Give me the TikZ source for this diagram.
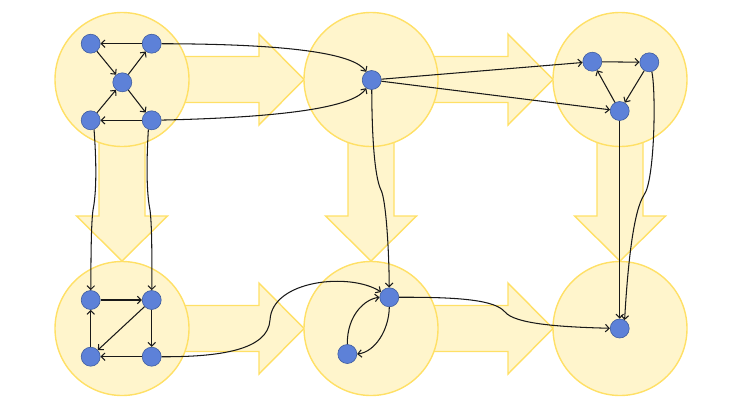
\documentclass[tikz,border=0pt]{standalone}
\usetikzlibrary{arrows.meta}
\definecolor{bfill}{HTML}{FFF5CC}
\definecolor{bdraw}{HTML}{FFE066}
\definecolor{nfill}{HTML}{5D81D8}
\definecolor{ndraw}{HTML}{3E5C9F}
\begin{document}
\begin{tikzpicture}[x=1pt,y=-1pt,
  group/.style={circle,fill=bfill,draw=bdraw,line width=1.4pt,minimum size=134pt,inner sep=0pt},
  v/.style={circle,fill=nfill,draw=ndraw,line width=0.6pt,minimum size=19pt,inner sep=0pt},
  e/.style={draw=black!90,line width=1.05pt,-{Straight Barb[length=3.8pt,width=7.5pt]}},
  flow/.style={fill=bfill,draw=bdraw,line width=1.4pt,line join=miter}]
\useasboundingbox (0,0) rectangle (743,410);
% big flow arrows
\foreach \x/\y in {122/79.5,371/79.5,122/328.5,371/328.5}
  \draw[flow] (\x,{\y-23}) -- ({\x+137},{\y-23}) -- ({\x+137},{\y-45.5}) -- ({\x+182},\y)
     -- ({\x+137},{\y+45.5}) -- ({\x+137},{\y+23}) -- (\x,{\y+23}) -- cycle;
\foreach \x in {122,371,620}
  \draw[flow] ({\x-23},79.5) -- ({\x-23},216) -- ({\x-45.5},216) -- (\x,261)
     -- ({\x+45.5},216) -- ({\x+23},216) -- ({\x+23},79.5) -- cycle;
% groups
\node[group] (g1) at (122,79.5) {};
\node[group] (g2) at (371,79.5) {};
\node[group] (g3) at (620,79.5) {};
\node[group] (g4) at (122,328.5) {};
\node[group] (g5) at (371,328.5) {};
\node[group] (g6) at (620,328.5) {};
% vertices
\node[v] (A) at (90.7,43.7) {};
\node[v] (B) at (151.7,43.7) {};
\node[v] (C) at (122.3,82.3) {};
\node[v] (D) at (90.7,120.3) {};
\node[v] (E) at (151.7,120.3) {};
\node[v] (M) at (371.7,80) {};
\node[v] (P) at (592.3,61.7) {};
\node[v] (Q) at (649.3,62.3) {};
\node[v] (R) at (619.7,111) {};
\node[v] (F) at (90.7,300) {};
\node[v] (G) at (151.7,300) {};
\node[v] (H) at (90.7,356.7) {};
\node[v] (I) at (151.7,356.7) {};
\node[v] (N) at (389.3,297.3) {};
\node[v] (O) at (347.3,354) {};
\node[v] (S) at (619.7,328.5) {};
% edges inside groups
\draw[e] (B) -- (A);
\draw[e] (A) -- (C);
\draw[e] (C) -- (B);
\draw[e] (D) -- (C);
\draw[e] (C) -- (E);
\draw[e] (E) -- (D);
\draw[e] (F) -- (G);
\draw[e] (G) -- (I);
\draw[e] (G) -- (H);
\draw[e] (I) -- (H);
\draw[e] (H) -- (F);
\draw[e] (P) -- (Q);
\draw[e] (Q) -- (R);
\draw[e] (R) -- (P);
\draw[e] (O.north) .. controls (347,315) and (365,299) .. (N.west);
\draw[e] (N.south) .. controls (389,330) and (375,352) .. (O.east);
% edges between groups
\draw[e] (B) .. controls (300,44) and (355,55) .. (M);
\draw[e] (E) .. controls (300,117) and (355,105) .. (M);
\draw[e] (M) -- (P);
\draw[e] (M) -- (R);
\draw[e] (R) -- (S);
\draw[e] (Q.-75) .. controls (656,90) and (655,180) .. (644,195) .. controls (634,210) and (628,260) .. (S.60);
\draw[e] (M) .. controls (372,150) and (376,180) .. (381,190) .. controls (386,200) and (389,250) .. (N);
\draw[e] (I) .. controls (220,357) and (268,350) .. (270,320) .. controls (272,280) and (350,272) .. (N);
\draw[e] (N) .. controls (460,297) and (495,300) .. (505,312) .. controls (515,324) and (560,327) .. (S);
\draw[e] (D.-70) .. controls (97,170) and (96,195) .. (93,210) .. controls (91,225) and (91,260) .. (F);
\draw[e] (E.-110) .. controls (146,170) and (147,195) .. (150,210) .. controls (152,225) and (152,260) .. (G);
\end{tikzpicture}
\end{document}
